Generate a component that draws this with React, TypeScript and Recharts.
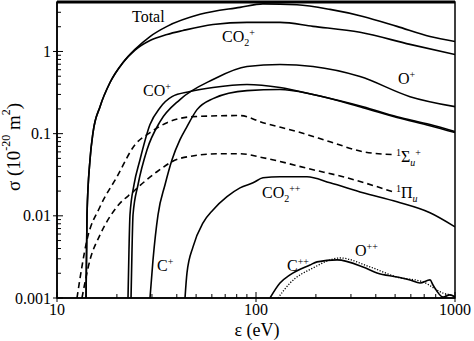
import React from "react";
import { LineChart, Line, XAxis, YAxis, ReferenceArea } from "recharts";

// energies (eV) and cross sections (1e-20 m^2)
const totalE = [13.99, 14.15, 14.65, 15.17, 16.45, 18.47, 21.47, 24.66, 29.33, 35.72, 52.33, 83.1, 108.4, 160.7, 235.5, 344.9, 511.2, 748.9, 1000];
const totalS = [0.001, 0.0103, 0.0482, 0.103, 0.213, 0.419, 0.734, 1.06, 1.52, 2.02, 2.83, 3.44, 3.8, 3.7, 3.25, 2.67, 2.02, 1.52, 1.32];

const co2pE = [13.99, 14.15, 14.65, 15.17, 16.45, 18.47, 21.47, 24.66, 29.33, 35.72, 42.97, 60.8, 90.1, 132.0, 193.4, 333.2, 594.2, 1000];
const co2pS = [0.001, 0.0103, 0.0482, 0.103, 0.213, 0.419, 0.734, 1.04, 1.36, 1.61, 1.8, 2.13, 2.26, 2.26, 2.02, 1.71, 1.22, 0.92];

const opE = [23.55, 23.82, 24.1, 25.53, 28.34, 32.94, 41.5, 60.8, 90.1, 132.0, 193.4, 333.2, 594.2, 1000];
const opS = [0.001, 0.00385, 0.0103, 0.0239, 0.0638, 0.14, 0.26, 0.456, 0.656, 0.693, 0.656, 0.495, 0.282, 0.213];

const copE = [22.74, 23.0, 23.27, 24.38, 26.13, 29.33, 32.94, 37.84, 46.6, 60.8, 90.1, 132.0, 193.4, 344.9, 511.2, 748.9, 1000];
const copS = [0.001, 0.00385, 0.0103, 0.0239, 0.0482, 0.129, 0.207, 0.282, 0.325, 0.364, 0.396, 0.364, 0.3, 0.213, 0.161, 0.129, 0.106];

const cpE = [29.33, 30.37, 32.18, 34.9, 37.84, 41.5, 45.0, 50.53, 60.8, 90.1, 132.0, 193.4, 344.9, 511.2, 748.9, 1000];
const cpS = [0.001, 0.00291, 0.0103, 0.0239, 0.0482, 0.0845, 0.122, 0.196, 0.267, 0.334, 0.344, 0.3, 0.207, 0.157, 0.125, 0.103];

const sigmaE = [12.6, 14.15, 16.45, 20.02, 24.66, 29.33, 35.72, 48.25, 83.1, 108.4, 160.7, 235.5, 344.9, 499.5];
const sigmaS = [0.001, 0.0051, 0.0129, 0.0299, 0.0734, 0.103, 0.136, 0.161, 0.166, 0.136, 0.106, 0.0798, 0.0603, 0.0554];

const piE = [13.35, 14.65, 16.45, 20.02, 24.1, 31.8, 41.5, 65.95, 83.1, 108.4, 193.4, 273.7, 488];
const piS = [0.001, 0.00291, 0.00586, 0.0129, 0.0196, 0.0344, 0.05, 0.057, 0.057, 0.051, 0.0364, 0.0299, 0.0196];

const co2ppE = [43.98, 45.0, 48.25, 54.18, 60.8, 71.5, 83.1, 96.6, 108.4, 132.0, 180.4, 235.5, 344.9, 511.2, 748.9, 1000];
const co2ppS = [0.001, 0.00202, 0.00419, 0.00822, 0.0118, 0.0171, 0.0219, 0.0252, 0.029, 0.0299, 0.0299, 0.0252, 0.0191, 0.0148, 0.0109, 0.00734];

const cppE = [117.6, 132.0, 148.2, 186.8, 202.6, 255.4, 344.9, 405.5, 511.2, 594.2, 667, 748.9, 775.3, 870.4, 944, 1000];
const cppS = [0.001, 0.00152, 0.00191, 0.00252, 0.00275, 0.00291, 0.00239, 0.00202, 0.0018, 0.00166, 0.00152, 0.00166, 0.00144, 0.00103, 0.00109, 0.00103];

const oppE = [129.0, 148.2, 193.4, 264.3, 374.1, 511.2, 690.6, 870.4, 944, 1000];
const oppS = [0.001, 0.00152, 0.00232, 0.00307, 0.00239, 0.0018, 0.00157, 0.00115, 0.00109, 0.00103];

// axis ticks
const xTicks = [10, 20, 30, 40, 50, 60, 70, 80, 90, 100, 200, 300, 400, 500, 600, 700, 800, 900, 1000];
const xLabels = [10, 100, 1000];
const yTicks = [
  0.001, 0.002, 0.003, 0.004, 0.005, 0.006, 0.007, 0.008, 0.009,
  0.01, 0.02, 0.03, 0.04, 0.05, 0.06, 0.07, 0.08, 0.09,
  0.1, 0.2, 0.3, 0.4, 0.5, 0.6, 0.7, 0.8, 0.9,
  1, 2, 3,
];
const yLabels = [0.001, 0.01, 0.1, 1];

const serif = "Liberation Serif, Times New Roman, DejaVu Serif, serif";
const font = { fontFamily: serif };

const pts = (e: number[], s: number[]) => e.map((v, i) => ({ e: v, s: s[i] }));

const XTick = (props: any) => {
  const { x, y, payload } = props;
  const v = payload.value;
  const major = xLabels.includes(v);
  return (
    <g>
      <line x1={x} x2={x} y1={y} y2={y - (major ? 6 : 4)} stroke="#000" strokeWidth={1} />
      {major && <line x1={x} x2={x} y1={y} y2={y + 4} stroke="#000" strokeWidth={1} />}
      {major && (
        <text x={x} y={y + 17} textAnchor="middle" fontSize={16} style={font} fill="#000">
          {v}
        </text>
      )}
    </g>
  );
};

const YTick = (props: any) => {
  const { x, y, payload } = props;
  const v = payload.value;
  const major = yLabels.includes(v);
  return (
    <g>
      <line x1={x} x2={x + (major ? 6 : 4)} y1={y} y2={y} stroke="#000" strokeWidth={1} />
      {major && <line x1={x - 4} x2={x} y1={y} y2={y} stroke="#000" strokeWidth={1} />}
      {major && (
        <text x={x - 6} y={y + 5.5} textAnchor="end" fontSize={16} style={font} fill="#000">
          {String(v)}
        </text>
      )}
    </g>
  );
};

type Part = [string, "" | "sub" | "sup", boolean?];

const Chem = ({ x, y, parts }: { x: number; y: number; parts: Part[] }) => {
  let cur = 0;
  return (
    <text x={x} y={y} fontSize={16} style={font} fill="#000">
      {parts.map(([t, k, it], i) => {
        const target = k === "sub" ? 4 : k === "sup" ? -6 : 0;
        const dy = target - cur;
        cur = target;
        return (
          <tspan key={i} dy={dy} fontSize={k ? 10 : 16} fontStyle={it ? "italic" : "normal"}>
            {t}
          </tspan>
        );
      })}
    </text>
  );
};

const lineProps = {
  type: "monotone" as const,
  dataKey: "s",
  stroke: "#000",
  strokeWidth: 1.6,
  dot: false,
  isAnimationActive: false,
};

export default function App() {
  return (
    <div style={{ position: "absolute", left: 0, top: 0, width: 474, height: 341, background: "#fff", fontFamily: serif }}>
      <LineChart width={474} height={341} margin={{ top: 2, right: 19, left: 0, bottom: 0 }}>
        <XAxis
          dataKey="e"
          type="number"
          scale="log"
          domain={[10, 1000]}
          allowDataOverflow
          ticks={xTicks}
          interval={0}
          height={43}
          tickSize={0}
          tickMargin={0}
          tickLine={false}
          tick={XTick}
          axisLine={{ stroke: "#000", strokeWidth: 1.5 }}
        />
        <YAxis
          type="number"
          scale="log"
          domain={[0.001, 4]}
          allowDataOverflow
          ticks={yTicks}
          interval={0}
          width={57}
          tickSize={0}
          tickMargin={0}
          tickLine={false}
          tick={YTick}
          axisLine={{ stroke: "#000", strokeWidth: 1.5 }}
        />
        <ReferenceArea x1={10} x2={1000} y1={0.001} y2={4} fill="none" stroke="#000" strokeWidth={1.5} ifOverflow="visible" />
        <Line {...lineProps} data={pts(totalE, totalS)} />
        <Line {...lineProps} data={pts(co2pE, co2pS)} />
        <Line {...lineProps} data={pts(opE, opS)} />
        <Line {...lineProps} data={pts(copE, copS)} />
        <Line {...lineProps} data={pts(cpE, cpS)} />
        <Line {...lineProps} data={pts(sigmaE, sigmaS)} strokeDasharray="6 4" />
        <Line {...lineProps} data={pts(piE, piS)} strokeDasharray="6 4" />
        <Line {...lineProps} data={pts(co2ppE, co2ppS)} />
        <Line {...lineProps} data={pts(cppE, cppS)} />
        <Line {...lineProps} data={pts(oppE, oppS)} strokeWidth={1.3} strokeDasharray="1.2 1.6" />
      </LineChart>
      <svg width={474} height={341} style={{ position: "absolute", left: 0, top: 0, pointerEvents: "none" }}>
        <line x1={57} x2={455} y1={2} y2={2} stroke="#000" strokeWidth={3} />
        <text x={132} y={22} fontSize={16} style={font} fill="#000">Total</text>
        <Chem x={222} y={42} parts={[["CO", ""], ["2", "sub"], ["+", "sup"]]} />
        <Chem x={398} y={84} parts={[["O", ""], ["+", "sup"]]} />
        <Chem x={143} y={96} parts={[["CO", ""], ["+", "sup"]]} />
        <Chem x={157} y={271} parts={[["C", ""], ["+", "sup"]]} />
        <Chem x={262} y={198} parts={[["CO", ""], ["2", "sub"], ["++", "sup"]]} />
        <Chem x={396} y={162} parts={[["1", "sup"], ["Σ", ""], ["u", "sub", true], ["+", "sup"]]} />
        <Chem x={396} y={198} parts={[["1", "sup"], ["Π", ""], ["u", "sub", true]]} />
        <Chem x={287} y={271} parts={[["C", ""], ["++", "sup"]]} />
        <Chem x={355} y={256} parts={[["O", ""], ["++", "sup"]]} />
        <text x={257} y={336} textAnchor="middle" fontSize={18} style={font} fill="#000">ε (eV)</text>
        <text
          x={13}
          y={147}
          transform="rotate(-90 13 147)"
          textAnchor="middle"
          dominantBaseline="central"
          fontSize={19}
          style={font}
          fill="#000"
        >
          σ (10
          <tspan dy={-7} fontSize={12}>-20</tspan>
          <tspan dy={7}> m</tspan>
          <tspan dy={-7} fontSize={12}>2</tspan>
          <tspan dy={7}>)</tspan>
        </text>
      </svg>
    </div>
  );
}
